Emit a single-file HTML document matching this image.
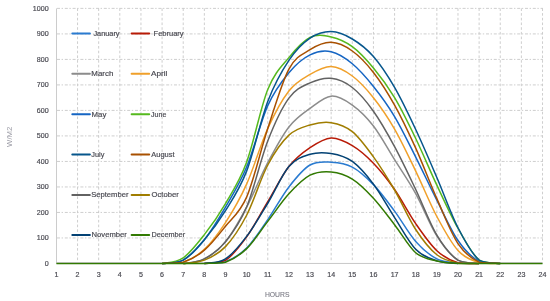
<!DOCTYPE html>
<html><head><meta charset="utf-8"><style>
html,body{margin:0;padding:0;background:#fff;}
svg{display:block;}
</style></head><body>
<svg width="550" height="301" viewBox="0 0 550 301">
<rect width="550" height="301" fill="#fff"/>
<g stroke="#c8c8c8" stroke-width="0.9" fill="none"><g stroke-dasharray="3 1.6 1.4 1.8"><line x1="57" y1="237.94" x2="543" y2="237.94"/><line x1="57" y1="212.44" x2="543" y2="212.44"/><line x1="57" y1="186.94" x2="543" y2="186.94"/><line x1="57" y1="161.43" x2="543" y2="161.43"/><line x1="57" y1="135.92" x2="543" y2="135.92"/><line x1="57" y1="110.42" x2="543" y2="110.42"/><line x1="57" y1="84.91" x2="543" y2="84.91"/><line x1="57" y1="59.41" x2="543" y2="59.41"/><line x1="57" y1="33.91" x2="543" y2="33.91"/><line x1="57" y1="8.40" x2="543" y2="8.40"/></g><g stroke-dasharray="2.6 2.1"><line x1="77.54" y1="8.4" x2="77.54" y2="262"/><line x1="98.67" y1="8.4" x2="98.67" y2="262"/><line x1="119.81" y1="8.4" x2="119.81" y2="262"/><line x1="140.94" y1="8.4" x2="140.94" y2="262"/><line x1="162.08" y1="8.4" x2="162.08" y2="262"/><line x1="183.22" y1="8.4" x2="183.22" y2="262"/><line x1="204.35" y1="8.4" x2="204.35" y2="262"/><line x1="225.49" y1="8.4" x2="225.49" y2="262"/><line x1="246.62" y1="8.4" x2="246.62" y2="262"/><line x1="267.76" y1="8.4" x2="267.76" y2="262"/><line x1="288.90" y1="8.4" x2="288.90" y2="262"/><line x1="310.03" y1="8.4" x2="310.03" y2="262"/><line x1="331.17" y1="8.4" x2="331.17" y2="262"/><line x1="352.30" y1="8.4" x2="352.30" y2="262"/><line x1="373.44" y1="8.4" x2="373.44" y2="262"/><line x1="394.58" y1="8.4" x2="394.58" y2="262"/><line x1="415.71" y1="8.4" x2="415.71" y2="262"/><line x1="436.85" y1="8.4" x2="436.85" y2="262"/><line x1="457.98" y1="8.4" x2="457.98" y2="262"/><line x1="479.12" y1="8.4" x2="479.12" y2="262"/><line x1="500.26" y1="8.4" x2="500.26" y2="262"/><line x1="521.39" y1="8.4" x2="521.39" y2="262"/><line x1="542.53" y1="8.4" x2="542.53" y2="262"/></g></g>
<line x1="56.5" y1="8.4" x2="56.5" y2="263.45" stroke="#cccccc" stroke-width="1"/>
<line x1="56.4" y1="263.45" x2="542.5" y2="263.45" stroke="#c8c8c8" stroke-width="1"/>
<line x1="57" y1="262.5" x2="210.69" y2="262.5" stroke="#ddd3e6" stroke-width="1"/>
<line x1="468.55" y1="262.5" x2="542.5" y2="262.5" stroke="#ddd3e6" stroke-width="1"/>
<g font-family="Liberation Sans, sans-serif" font-size="7.1" fill="#4a4a52" stroke="#4a4a52" stroke-width="0.18" text-anchor="end"><text x="48.6" y="265.95">0</text><text x="48.6" y="240.44">100</text><text x="48.6" y="214.94">200</text><text x="48.6" y="189.44">300</text><text x="48.6" y="163.93">400</text><text x="48.6" y="138.42">500</text><text x="48.6" y="112.92">600</text><text x="48.6" y="87.41">700</text><text x="48.6" y="61.91">800</text><text x="48.6" y="36.41">900</text><text x="48.6" y="10.90">1000</text></g>
<g font-family="Liberation Sans, sans-serif" font-size="7.1" fill="#4a4a52" stroke="#4a4a52" stroke-width="0.18" text-anchor="middle"><text x="56.40" y="277">1</text><text x="77.54" y="277">2</text><text x="98.67" y="277">3</text><text x="119.81" y="277">4</text><text x="140.94" y="277">5</text><text x="162.08" y="277">6</text><text x="183.22" y="277">7</text><text x="204.35" y="277">8</text><text x="225.49" y="277">9</text><text x="246.62" y="277">10</text><text x="267.76" y="277">11</text><text x="288.90" y="277">12</text><text x="310.03" y="277">13</text><text x="331.17" y="277">14</text><text x="352.30" y="277">15</text><text x="373.44" y="277">16</text><text x="394.58" y="277">17</text><text x="415.71" y="277">18</text><text x="436.85" y="277">19</text><text x="457.98" y="277">20</text><text x="479.12" y="277">21</text><text x="500.26" y="277">22</text><text x="521.39" y="277">23</text><text x="542.53" y="277">24</text></g>
<text x="277.2" y="297.4" font-family="Liberation Sans, sans-serif" font-size="7.2" fill="#7c7c86" stroke="#7c7c86" stroke-width="0.12" text-anchor="middle" textLength="24.6" lengthAdjust="spacingAndGlyphs">HOURS</text>
<text transform="translate(11.6 136.8) rotate(-90)" font-family="Liberation Sans, sans-serif" font-size="7" fill="#9a9aa4" text-anchor="middle" textLength="20.3" lengthAdjust="spacingAndGlyphs">W/M2</text>
<path d="M204.35 263.45C211.40 263.15 218.44 263.45 225.49 261.66C232.53 259.11 239.58 255.16 246.62 248.15C253.67 241.13 260.71 229.78 267.76 219.58C274.81 209.38 281.85 196.03 288.90 186.94C295.94 177.84 302.99 169.12 310.03 165.00C317.08 160.88 324.12 161.86 331.17 162.20C338.21 162.54 345.26 163.30 352.30 167.04C359.35 170.78 366.39 177.29 373.44 184.64C380.49 191.99 387.53 201.69 394.58 211.16C401.62 220.64 408.67 233.57 415.71 241.52C422.76 249.46 429.80 255.29 436.85 258.86C443.89 262.43 450.94 262.17 457.98 262.94C465.03 263.45 472.07 263.36 479.12 263.45" fill="none" stroke="#2a7bd0" stroke-width="1.50" stroke-linejoin="round"/>
<path d="M204.35 263.45C211.40 262.94 218.44 263.45 225.49 260.39C232.53 255.97 239.58 246.70 246.62 236.92C253.67 227.15 260.71 213.46 267.76 201.73C274.81 190.00 281.85 175.54 288.90 166.53C295.94 157.52 302.99 152.42 310.03 147.66C317.08 142.90 324.12 138.31 331.17 137.97C338.21 137.63 345.26 141.41 352.30 145.62C359.35 149.83 366.39 155.90 373.44 163.22C380.49 170.53 387.53 179.41 394.58 189.49C401.62 199.56 408.67 213.46 415.71 223.66C422.76 233.86 429.80 244.19 436.85 250.70C443.89 257.20 450.94 260.56 457.98 262.68C465.03 263.45 472.07 263.32 479.12 263.45" fill="none" stroke="#b81a06" stroke-width="1.50" stroke-linejoin="round"/>
<path d="M183.22 263.45C190.26 262.68 197.31 262.47 204.35 258.86C211.40 255.25 218.44 250.40 225.49 241.77C232.53 233.14 239.58 220.26 246.62 207.08C253.67 193.91 260.71 176.05 267.76 162.71C274.81 149.36 281.85 136.05 288.90 127.00C295.94 117.94 302.99 113.52 310.03 108.38C317.08 103.24 324.12 96.69 331.17 96.14C338.21 95.58 345.26 100.09 352.30 105.06C359.35 110.04 366.39 116.88 373.44 125.98C380.49 135.07 387.53 148.38 394.58 159.64C401.62 170.91 408.67 180.86 415.71 193.57C422.76 206.28 429.80 224.77 436.85 235.90C443.89 247.04 450.94 255.80 457.98 260.39C465.03 263.45 472.07 262.94 479.12 263.45" fill="none" stroke="#8c8c8c" stroke-width="1.50" stroke-linejoin="round"/>
<path d="M162.08 263.45C169.13 263.24 176.17 263.45 183.22 262.17C190.26 259.84 197.31 256.01 204.35 249.42C211.40 242.83 218.44 233.52 225.49 222.64C232.53 211.76 239.58 199.82 246.62 184.13C253.67 168.44 260.71 144.04 267.76 128.53C274.81 113.01 281.85 100.05 288.90 91.04C295.94 82.02 302.99 78.54 310.03 74.46C317.08 70.38 324.12 66.30 331.17 66.55C338.21 66.81 345.26 70.80 352.30 75.99C359.35 81.17 366.39 88.83 373.44 97.67C380.49 106.51 387.53 116.80 394.58 129.04C401.62 141.28 408.67 156.54 415.71 171.12C422.76 185.70 429.80 203.30 436.85 216.52C443.89 229.74 450.94 242.75 457.98 250.44C465.03 258.14 472.07 260.52 479.12 262.68C486.17 263.45 493.21 263.32 500.26 263.45" fill="none" stroke="#f0a02a" stroke-width="1.50" stroke-linejoin="round"/>
<path d="M162.08 263.45C169.13 262.90 176.17 263.45 183.22 260.13C190.26 256.18 197.31 248.57 204.35 239.73C211.40 230.89 218.44 219.20 225.49 207.08C232.53 194.97 239.58 183.96 246.62 167.04C253.67 150.12 260.71 121.30 267.76 105.57C274.81 89.85 281.85 81.13 288.90 72.67C295.94 64.21 302.99 58.30 310.03 54.82C317.08 51.33 324.12 50.27 331.17 51.76C338.21 53.25 345.26 57.96 352.30 63.75C359.35 69.53 366.39 77.65 373.44 86.45C380.49 95.24 387.53 104.77 394.58 116.54C401.62 128.32 408.67 143.15 415.71 157.09C422.76 171.04 429.80 186.30 436.85 200.20C443.89 214.10 450.94 230.29 457.98 240.50C465.03 250.70 472.07 257.58 479.12 261.41C486.17 263.45 493.21 263.11 500.26 263.45" fill="none" stroke="#1565c3" stroke-width="1.50" stroke-linejoin="round"/>
<path d="M162.08 263.45C169.13 262.51 176.17 262.64 183.22 257.84C190.26 253.04 197.31 243.68 204.35 234.63C211.40 225.58 218.44 215.59 225.49 203.51C232.53 191.44 239.58 181.20 246.62 162.20C253.67 143.19 260.71 106.93 267.76 89.51C274.81 72.08 281.85 66.30 288.90 57.62C295.94 48.95 302.99 40.92 310.03 37.48C317.08 34.03 324.12 35.44 331.17 36.97C338.21 38.50 345.26 41.47 352.30 46.66C359.35 51.84 366.39 59.58 373.44 68.08C380.49 76.58 387.53 85.94 394.58 97.67C401.62 109.40 408.67 123.90 415.71 138.48C422.76 153.06 429.80 170.19 436.85 185.15C443.89 200.11 450.94 215.76 457.98 228.25C465.03 240.75 472.07 254.27 479.12 260.13C486.17 263.45 493.21 262.90 500.26 263.45" fill="none" stroke="#55b91e" stroke-width="1.50" stroke-linejoin="round"/>
<path d="M162.08 263.45C169.13 262.90 176.17 263.45 183.22 260.13C190.26 256.18 197.31 247.98 204.35 239.73C211.40 231.48 218.44 222.09 225.49 210.65C232.53 199.22 239.58 189.32 246.62 171.12C253.67 152.93 260.71 119.94 267.76 101.49C274.81 83.04 281.85 70.97 288.90 60.43C295.94 49.89 302.99 43.04 310.03 38.24C317.08 33.44 324.12 31.48 331.17 31.61C338.21 31.74 345.26 34.84 352.30 39.01C359.35 43.17 366.39 48.53 373.44 56.60C380.49 64.68 387.53 75.31 394.58 87.47C401.62 99.62 408.67 114.54 415.71 129.55C422.76 144.55 429.80 161.13 436.85 177.50C443.89 193.86 450.94 213.97 457.98 227.74C465.03 241.52 472.07 254.18 479.12 260.13C486.17 263.45 493.21 262.90 500.26 263.45" fill="none" stroke="#06568c" stroke-width="1.50" stroke-linejoin="round"/>
<path d="M162.08 263.45C169.13 263.24 176.17 263.45 183.22 262.17C190.26 259.96 197.31 256.18 204.35 250.19C211.40 244.19 218.44 235.05 225.49 226.21C232.53 217.37 239.58 213.42 246.62 197.14C253.67 180.86 260.71 149.87 267.76 128.53C274.81 107.19 281.85 82.24 288.90 69.10C295.94 55.97 302.99 54.18 310.03 49.72C317.08 45.25 324.12 42.11 331.17 42.32C338.21 42.53 345.26 45.98 352.30 50.99C359.35 56.01 366.39 63.41 373.44 72.42C380.49 81.43 387.53 92.44 394.58 105.06C401.62 117.69 408.67 132.57 415.71 148.17C422.76 163.77 429.80 182.77 436.85 198.67C443.89 214.57 450.94 232.97 457.98 243.56C465.03 254.14 472.07 258.86 479.12 262.17C486.17 263.45 493.21 263.24 500.26 263.45" fill="none" stroke="#a85000" stroke-width="1.50" stroke-linejoin="round"/>
<path d="M183.22 263.45C190.26 262.68 197.31 262.47 204.35 258.86C211.40 255.25 218.44 250.40 225.49 241.77C232.53 233.14 239.58 223.87 246.62 207.08C253.67 190.29 260.71 159.18 267.76 141.03C274.81 122.87 281.85 107.87 288.90 98.18C295.94 88.49 302.99 86.19 310.03 82.87C317.08 79.56 324.12 77.52 331.17 78.28C338.21 79.05 345.26 81.98 352.30 87.47C359.35 92.95 366.39 101.32 373.44 111.19C380.49 121.05 387.53 133.59 394.58 146.64C401.62 159.69 408.67 174.74 415.71 189.49C422.76 204.24 429.80 223.36 436.85 235.14C443.89 246.91 450.94 255.42 457.98 260.13C465.03 263.45 472.07 262.90 479.12 263.45" fill="none" stroke="#626262" stroke-width="1.50" stroke-linejoin="round"/>
<path d="M183.22 263.45C190.26 262.90 197.31 262.94 204.35 260.13C211.40 257.33 218.44 254.10 225.49 246.62C232.53 239.14 239.58 228.85 246.62 215.25C253.67 201.64 260.71 178.35 267.76 165.00C274.81 151.65 281.85 141.83 288.90 135.16C295.94 128.49 302.99 127.04 310.03 124.96C317.08 122.87 324.12 121.56 331.17 122.66C338.21 123.77 345.26 125.89 352.30 131.59C359.35 137.29 366.39 147.10 373.44 156.84C380.49 166.57 387.53 177.88 394.58 190.00C401.62 202.11 408.67 218.73 415.71 229.53C422.76 240.33 429.80 249.17 436.85 254.78C443.89 260.39 450.94 261.75 457.98 263.19C465.03 263.45 472.07 263.41 479.12 263.45" fill="none" stroke="#a07d00" stroke-width="1.50" stroke-linejoin="round"/>
<path d="M204.35 263.45C211.40 262.68 218.44 263.36 225.49 258.86C232.53 254.35 239.58 245.68 246.62 236.41C253.67 227.15 260.71 214.91 267.76 203.26C274.81 191.61 281.85 174.69 288.90 166.53C295.94 158.37 302.99 156.46 310.03 154.29C317.08 152.12 324.12 152.33 331.17 153.52C338.21 154.71 345.26 156.33 352.30 161.43C359.35 166.53 366.39 174.78 373.44 184.13C380.49 193.48 387.53 206.70 394.58 217.54C401.62 228.38 408.67 241.94 415.71 249.17C422.76 256.39 429.80 258.52 436.85 260.90C443.89 263.28 450.94 263.02 457.98 263.45" fill="none" stroke="#034274" stroke-width="1.50" stroke-linejoin="round"/>
<path d="M56.40 263.45C59.92 263.45 70.49 263.45 77.54 263.45C84.58 263.45 91.63 263.45 98.67 263.45C105.72 263.45 112.76 263.45 119.81 263.45C126.85 263.45 133.90 263.45 140.94 263.45C147.99 263.45 155.03 263.45 162.08 263.45C169.13 263.45 176.17 263.45 183.22 263.45C190.26 263.45 197.31 263.45 204.35 263.45C211.40 263.24 218.44 263.45 225.49 262.17C232.53 259.71 239.58 255.46 246.62 248.66C253.67 241.86 260.71 230.51 267.76 221.37C274.81 212.23 281.85 201.52 288.90 193.82C295.94 186.13 302.99 178.86 310.03 175.20C317.08 171.55 324.12 171.25 331.17 171.89C338.21 172.52 345.26 174.65 352.30 179.03C359.35 183.41 366.39 190.55 373.44 198.16C380.49 205.77 387.53 215.59 394.58 224.68C401.62 233.78 408.67 246.70 415.71 252.74C422.76 258.77 429.80 259.11 436.85 260.90C443.89 262.68 450.94 263.02 457.98 263.45C465.03 263.45 472.07 263.45 479.12 263.45C486.17 263.45 493.21 263.45 500.26 263.45C507.30 263.45 514.35 263.45 521.39 263.45C528.44 263.45 539.01 263.45 542.53 263.45" fill="none" stroke="#327a02" stroke-width="1.50" stroke-linejoin="round"/>
<g font-family="Liberation Sans, sans-serif" font-size="7.2" fill="#4a4a52" stroke="#4a4a52" stroke-width="0.18"><line x1="72.3" y1="33.5" x2="89.9" y2="33.5" stroke="#2a7bd0" stroke-width="2" stroke-linecap="round"/><text x="93.45" y="35.9" textLength="26.10" lengthAdjust="spacingAndGlyphs">January</text><line x1="131.6" y1="33.5" x2="149.2" y2="33.5" stroke="#b81a06" stroke-width="2" stroke-linecap="round"/><text x="153.55" y="35.9" textLength="30.00" lengthAdjust="spacingAndGlyphs">February</text><line x1="72.3" y1="73.8" x2="89.9" y2="73.8" stroke="#8c8c8c" stroke-width="2" stroke-linecap="round"/><text x="91.35" y="76.2" textLength="22.00" lengthAdjust="spacingAndGlyphs">March</text><line x1="131.6" y1="73.8" x2="149.2" y2="73.8" stroke="#f0a02a" stroke-width="2" stroke-linecap="round"/><text x="150.95" y="76.2" textLength="16.40" lengthAdjust="spacingAndGlyphs">April</text><line x1="72.3" y1="114.3" x2="89.9" y2="114.3" stroke="#1565c3" stroke-width="2" stroke-linecap="round"/><text x="91.55" y="116.7" textLength="14.80" lengthAdjust="spacingAndGlyphs">May</text><line x1="131.6" y1="114.3" x2="149.2" y2="114.3" stroke="#55b91e" stroke-width="2" stroke-linecap="round"/><text x="151.05" y="116.7" textLength="15.30" lengthAdjust="spacingAndGlyphs">June</text><line x1="72.3" y1="154.5" x2="89.9" y2="154.5" stroke="#06568c" stroke-width="2" stroke-linecap="round"/><text x="91.35" y="156.9" textLength="13.00" lengthAdjust="spacingAndGlyphs">July</text><line x1="131.6" y1="154.5" x2="149.2" y2="154.5" stroke="#a85000" stroke-width="2" stroke-linecap="round"/><text x="151.35" y="156.9" textLength="23.20" lengthAdjust="spacingAndGlyphs">August</text><line x1="72.3" y1="194.9" x2="89.9" y2="194.9" stroke="#626262" stroke-width="2" stroke-linecap="round"/><text x="91.15" y="197.3" textLength="37.40" lengthAdjust="spacingAndGlyphs">September</text><line x1="131.6" y1="194.9" x2="149.2" y2="194.9" stroke="#a07d00" stroke-width="2" stroke-linecap="round"/><text x="151.55" y="197.3" textLength="27.20" lengthAdjust="spacingAndGlyphs">October</text><line x1="72.3" y1="234.9" x2="89.9" y2="234.9" stroke="#034274" stroke-width="2" stroke-linecap="round"/><text x="91.55" y="237.3" textLength="35.30" lengthAdjust="spacingAndGlyphs">November</text><line x1="131.6" y1="234.9" x2="149.2" y2="234.9" stroke="#327a02" stroke-width="2" stroke-linecap="round"/><text x="151.55" y="237.3" textLength="33.50" lengthAdjust="spacingAndGlyphs">December</text></g>
</svg>
</body></html>
